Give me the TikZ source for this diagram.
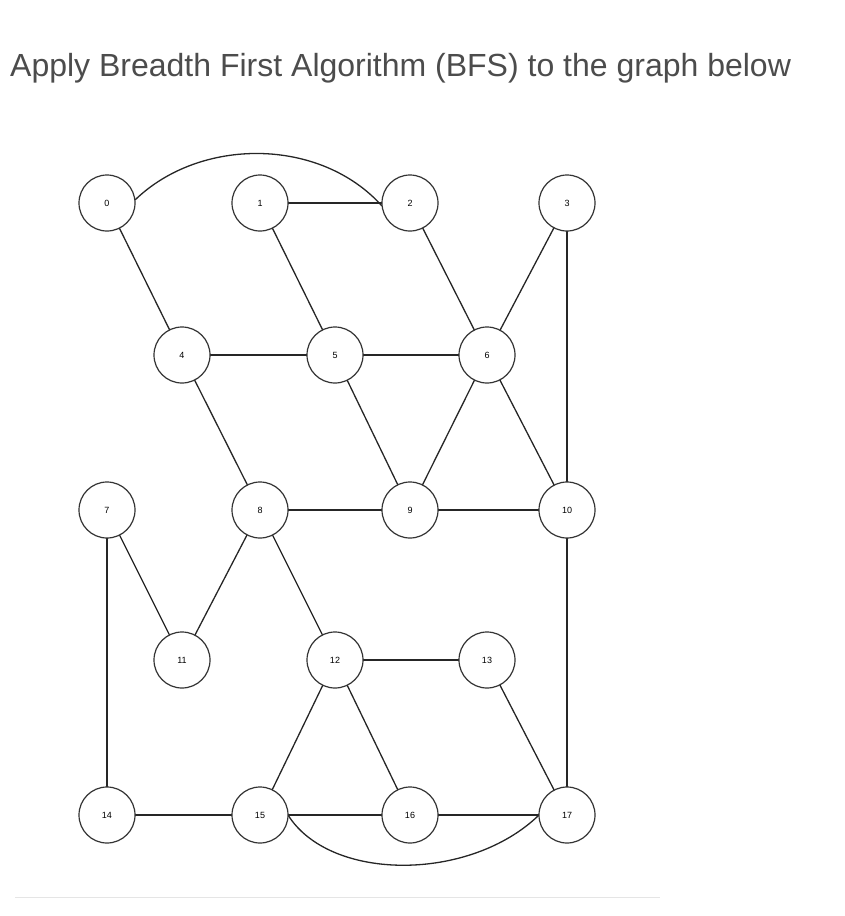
\documentclass[tikz,border=0pt]{standalone}
\usepackage{fontspec}
\setmainfont{Liberation Sans}
\begin{document}
\begin{tikzpicture}[x=1pt,y=-1pt,
  vtx/.style={circle,draw=black!80,line width=1.2pt,minimum size=56pt,inner sep=0pt,font=\fontsize{9}{10}\selectfont,fill=white},
  edge/.style={line width=1.3pt,draw=black!85}]
\useasboundingbox (0,0) rectangle (844,916);
\node[anchor=west,inner sep=0pt,text=black!70,font=\fontsize{32}{36}\selectfont] (title) at (10,68) {Apply Breadth First Algorithm (BFS) to the graph below};
\foreach \n/\x/\y in {0/107/203,1/260/203,2/410/203,3/567/203,4/182/355,5/335/355,6/487/355,7/107/510,8/260/510,9/410/510,10/567/510,11/182/660,12/335/660,13/487/660,14/107/815,15/260/815,16/410/815,17/567/815}
  \coordinate (c\n) at (\x,\y);
\foreach \a/\b in {1/2,0/4,1/5,2/6,3/6,3/10,4/5,5/6,4/8,5/9,6/9,6/10,8/9,9/10,7/11,8/11,8/12,7/14,10/17,12/13,12/15,12/16,13/17,14/15,15/16,16/17}
  \draw[edge] (c\a) -- (c\b);
\draw[edge] (c0) ++(28,-3) .. controls (200,137) and (320,137) .. (382,206);
\draw[edge] (c15) ++(28,0) .. controls (330,882) and (470,882) .. (539,815);
\foreach \n in {0,...,17}
  \node[vtx] (n\n) at (c\n) {\n};
\draw[black!10,line width=1pt] (15,897) -- (660,897);
\end{tikzpicture}
\end{document}
